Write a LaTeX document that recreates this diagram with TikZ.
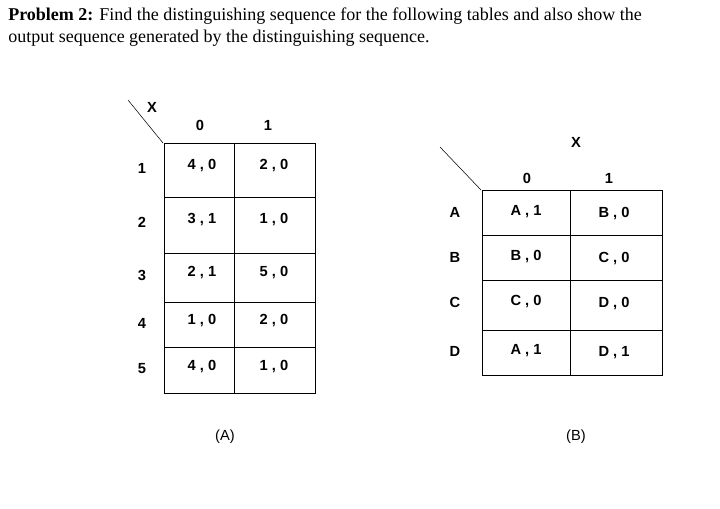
\documentclass[tikz,border=0pt]{standalone}
\usepackage{fontspec}
\setmainfont{Liberation Serif}
\newfontfamily\tabfont{Liberation Sans}
\begin{document}
\begin{tikzpicture}[x=0.75pt,y=-0.75pt,
  cell/.style={font=\tabfont\bfseries\fontsize{11}{13}\selectfont},
  grid/.style={draw=black,line width=0.7pt}]
\useasboundingbox (0,0) rectangle (720,508);
\node[anchor=north west,align=left,inner sep=0pt,font=\fontsize{13.5}{16.5}\selectfont] (title) at (8,8)
 {\textbf{Problem 2:} Find the distinguishing sequence for the following tables and also show the\\ output sequence generated by the distinguishing sequence.};
% Table A
\draw[grid] (164,143) rectangle (315,393);
\draw[grid] (234,143) -- (234,393);
\foreach \y in {197,253,302,347} \draw[grid] (164,\y) -- (315,\y);
\coordinate (da) at (128,100); \coordinate (db) at (163,143);
\draw (da) -- (db);
\node[cell] (xa) at (152,107) {X};
\node[cell] (ha0) at (200,125) {0};
\node[cell] (ha1) at (268,125) {1};
\foreach \l/\y/\a/\b [count=\i] in {1/168/{4 , 0}/{2 , 0}, 2/222/{3 , 1}/{1 , 0}, 3/275/{2 , 1}/{5 , 0}, 4/323/{1 , 0}/{2 , 0}, 5/369/{4 , 0}/{1 , 0}}{
  \node[cell] (ra\i) at (142,\y) {\l};
  \node[cell] (ca\i) at (202,\y-2) {\a};
  \node[cell] (cb\i) at (274,\y-2) {\b};
}
\node[cell,font=\tabfont\fontsize{11}{13}\selectfont] (capA) at (225,437) {(A)};
% Table B
\draw[grid] (482,190) rectangle (662,375);
\draw[grid] (570,190) -- (570,375);
\foreach \y in {235,280,330} \draw[grid] (482,\y) -- (662,\y);
\coordinate (dc) at (440,147); \coordinate (dd) at (481,190);
\draw (dc) -- (dd);
\node[cell] (xb) at (576,142) {X};
\node[cell] (hb0) at (527,178) {0};
\node[cell] (hb1) at (609,178) {1};
\foreach \l/\y/\a/\b [count=\i] in {A/212/{A , 1}/{B , 0}, B/257/{B , 0}/{C , 0}, C/302/{C , 0}/{D , 0}, D/351/{A , 1}/{D , 1}}{
  \node[cell] (rb\i) at (455,\y) {\l};
  \node[cell] (cc\i) at (526,\y) {\a};
  \node[cell] (cd\i) at (614,\y+2) {\b};
}
\node[cell,font=\tabfont\fontsize{11}{13}\selectfont] (capB) at (576,437) {(B)};
\end{tikzpicture}
\end{document}
